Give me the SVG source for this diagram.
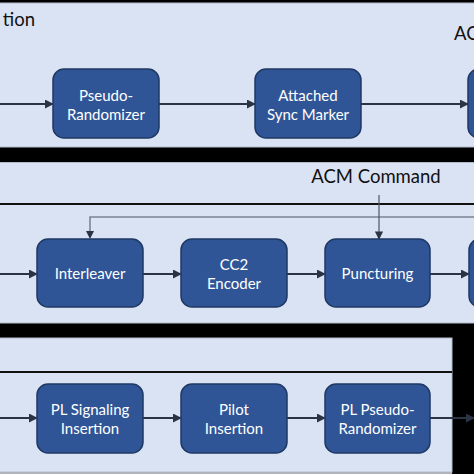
<svg xmlns="http://www.w3.org/2000/svg" width="474" height="474" viewBox="0 0 474 474">
<style>
.panel{fill:#dae3f3;stroke:#b4bccb;stroke-width:1}
.box{fill:#2f5597;stroke:#1f3864;stroke-width:1.5}
.bt{font-family:Lato,"Liberation Sans",sans-serif;font-size:15px;fill:#ffffff;text-anchor:middle}
.lt{font-family:Lato,"Liberation Sans",sans-serif;font-size:18.5px;fill:#111111}
.flow{fill:none;stroke:#2a3444;stroke-width:2;marker-end:url(#ah)}
.ctl{fill:none;stroke:#4d5563;stroke-width:1.2;marker-end:url(#ah2)}
</style>
<defs>
<marker id="ah" viewBox="0 0 10 10" refX="9" refY="5" markerWidth="4.5" markerHeight="4.5" orient="auto" markerUnits="strokeWidth"><path d="M0,0 L10,5 L0,10 z" fill="#2a3444"/></marker>
<marker id="ah2" viewBox="0 0 10 10" refX="9" refY="5" markerWidth="7" markerHeight="7" orient="auto" markerUnits="strokeWidth"><path d="M0,0 L10,5 L0,10 z" fill="#2a3444"/></marker>
</defs>
<rect x="0" y="0" width="474" height="474" fill="#000000"/>
<g id="panels">
<rect class="panel" x="-2" y="3" width="478" height="144"/>
<rect class="panel" x="-2" y="162.5" width="478" height="160.5"/>
<rect class="panel" x="-2" y="338" width="454" height="134"/>
<rect x="0" y="472" width="452" height="2" fill="#b0b5bd"/>
<line x1="0" y1="204" x2="474" y2="204" stroke="#111111" stroke-width="2.2"/>
<line x1="0" y1="372" x2="452" y2="372" stroke="#111111" stroke-width="2.2"/>
</g>
<g id="labels">
<text class="lt" x="35" y="26" text-anchor="end">tion</text>
<text class="lt" x="454" y="40">AC</text>
<text class="lt" x="376" y="183" text-anchor="middle">ACM Command</text>
</g>
<g id="connectors">
<line class="flow" x1="0" y1="104" x2="53" y2="104"/>
<line class="flow" x1="159" y1="104" x2="255" y2="104"/>
<line class="flow" x1="361" y1="104" x2="468" y2="104"/>
<line class="flow" x1="0" y1="274" x2="37" y2="274"/>
<line class="flow" x1="143" y1="274" x2="181" y2="274"/>
<line class="flow" x1="287" y1="274" x2="325" y2="274"/>
<line class="flow" x1="430" y1="274" x2="469" y2="274"/>
<line class="flow" x1="0" y1="418" x2="37" y2="418"/>
<line class="flow" x1="143" y1="418" x2="181" y2="418"/>
<line class="flow" x1="287" y1="418" x2="325" y2="418"/>
<line class="flow" x1="430" y1="418" x2="474" y2="418"/>
<polyline fill="none" stroke="#7a8494" stroke-width="1.6" points="476,217 90,217 90,232"/>
<path d="M86,231 L94,231 L90,239 z" fill="#2a3444"/>
<line class="ctl" x1="379" y1="195" x2="379" y2="239"/>
</g>
<g id="pseudo-randomizer"><rect class="box" x="53" y="69" width="106" height="69" rx="11"/><text class="bt" x="106" y="100.5">Pseudo-</text><text class="bt" x="106" y="119.5">Randomizer</text></g>
<g id="asm"><rect class="box" x="255" y="69" width="106" height="69" rx="11"/><text class="bt" x="308" y="100.5">Attached</text><text class="bt" x="308" y="119.5">Sync Marker</text></g>
<g id="top-right"><rect class="box" x="468" y="69" width="106" height="69" rx="11"/></g>
<g id="interleaver"><rect class="box" x="37" y="239" width="106" height="68" rx="11"/><text class="bt" x="90" y="279">Interleaver</text></g>
<g id="cc2"><rect class="box" x="181" y="239" width="106" height="68" rx="11"/><text class="bt" x="234" y="269.5">CC2</text><text class="bt" x="234" y="288.5">Encoder</text></g>
<g id="puncturing"><rect class="box" x="325" y="239" width="105" height="68" rx="11"/><text class="bt" x="377.5" y="279">Puncturing</text></g>
<g id="mid-right"><rect class="box" x="469" y="239" width="106" height="68" rx="11"/></g>
<g id="pl-signaling"><rect class="box" x="37" y="384" width="106" height="69" rx="11"/><text class="bt" x="90" y="415">PL Signaling</text><text class="bt" x="90" y="434">Insertion</text></g>
<g id="pilot"><rect class="box" x="181" y="384" width="106" height="69" rx="11"/><text class="bt" x="234" y="415">Pilot</text><text class="bt" x="234" y="434">Insertion</text></g>
<g id="pl-pseudo"><rect class="box" x="325" y="384" width="105" height="69" rx="11"/><text class="bt" x="377.5" y="415">PL Pseudo-</text><text class="bt" x="377.5" y="434">Randomizer</text></g>
</svg>
